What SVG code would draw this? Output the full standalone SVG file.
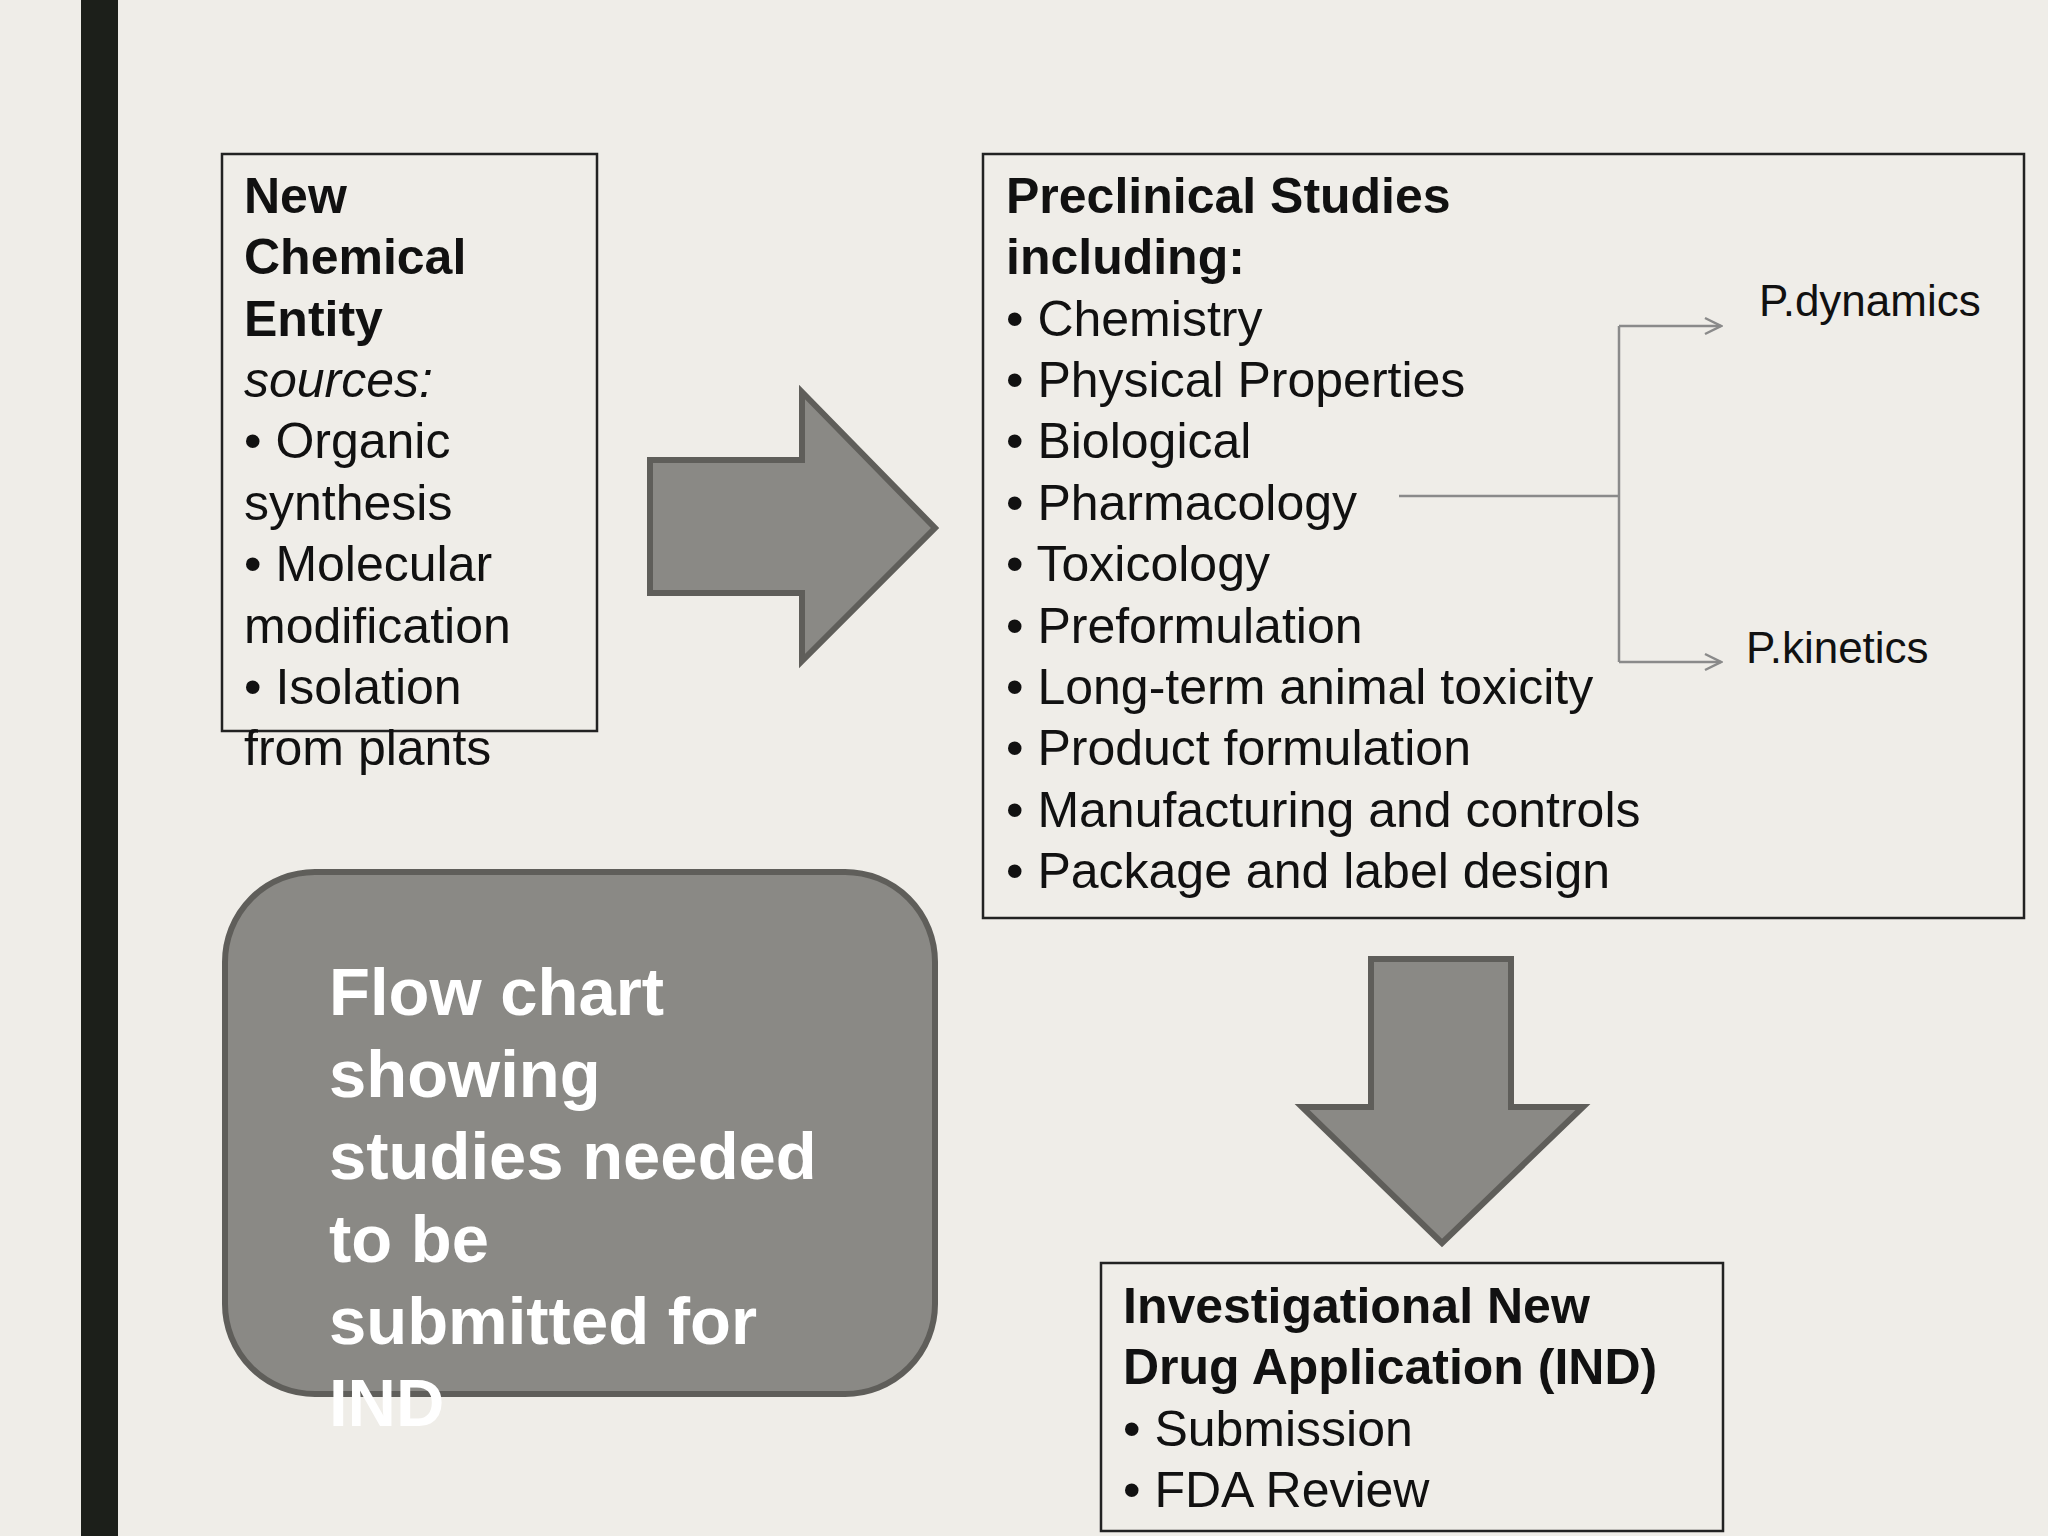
<svg xmlns="http://www.w3.org/2000/svg" width="2048" height="1536" viewBox="0 0 2048 1536">
<defs>
<style>
text{font-family:"Liberation Sans",Arial,sans-serif;fill:#111}
.t{font-size:50px}
.b{font-weight:bold}
.w{fill:#fff;font-size:67px;font-weight:bold}
.box{fill:none;stroke:#222;stroke-width:2.5}
.arr{fill:#8a8985;stroke:#5f5e5a;stroke-width:6}
.con{fill:none;stroke:#8a8a8a;stroke-width:2.5}
.p{font-size:44px}
</style>
<marker id="m" viewBox="0 0 20 20" refX="18" refY="10" markerWidth="20" markerHeight="20" markerUnits="userSpaceOnUse" orient="auto"><path d="M2 2 L18 10 L2 18" fill="none" stroke="#8a8a8a" stroke-width="2.5"/></marker>
</defs>
<rect width="2048" height="1536" fill="#efede8"/>
<rect x="81" y="0" width="37" height="1536" fill="#1c1f1a"/>
<g id="nce">
<rect class="box" x="222" y="154" width="375" height="577"/>
<text class="t" x="244"><tspan class="b" x="244" y="213">New</tspan><tspan class="b" x="244" y="274">Chemical</tspan><tspan class="b" x="244" y="336">Entity</tspan><tspan x="244" y="397" font-style="italic">sources:</tspan><tspan x="244" y="458">• Organic</tspan><tspan x="244" y="520">synthesis</tspan><tspan x="244" y="581">• Molecular</tspan><tspan x="244" y="643">modification</tspan><tspan x="244" y="704">• Isolation</tspan><tspan x="244" y="765">from plants</tspan></text>
</g>
<g id="arrow-right"><polygon class="arr" points="650,460 802,460 802,392 935,528 802,661 802,593 650,593"/></g>
<g id="preclinical">
<rect class="box" x="983" y="154" width="1041" height="764"/>
<text class="t" x="1006"><tspan class="b" x="1006" y="213">Preclinical Studies</tspan><tspan class="b" x="1006" y="274">including:</tspan><tspan x="1006" y="336">• Chemistry</tspan><tspan x="1006" y="397">• Physical Properties</tspan><tspan x="1006" y="458">• Biological</tspan><tspan x="1006" y="520">• Pharmacology</tspan><tspan x="1006" y="581">• Toxicology</tspan><tspan x="1006" y="643">• Preformulation</tspan><tspan x="1006" y="704">• Long-term animal toxicity</tspan><tspan x="1006" y="765">• Product formulation</tspan><tspan x="1006" y="827">• Manufacturing and controls</tspan><tspan x="1006" y="888">• Package and label design</tspan></text>
</g>
<g id="connectors">
<path class="con" d="M1399 496 H1619"/>
<path class="con" d="M1619 326 V662"/>
<path class="con" d="M1619 326 H1721" marker-end="url(#m)"/>
<path class="con" d="M1619 662 H1721" marker-end="url(#m)"/>
</g>
<g id="pdyn"><text class="p" x="1759" y="316">P.dynamics</text></g>
<g id="pkin"><text class="p" x="1746" y="663">P.kinetics</text></g>
<g id="arrow-down"><polygon class="arr" points="1371,959 1511,959 1511,1107 1583,1107 1442,1243 1302,1107 1371,1107"/></g>
<g id="ind">
<rect class="box" x="1101" y="1263" width="622" height="268"/>
<text class="t" x="1123"><tspan class="b" x="1123" y="1323">Investigational New</tspan><tspan class="b" x="1123" y="1384">Drug Application (IND)</tspan><tspan x="1123" y="1446">• Submission</tspan><tspan x="1123" y="1507">• FDA Review</tspan></text>
</g>
<g id="caption">
<rect x="225" y="872" width="710" height="522" rx="90" fill="#8a8985" stroke="#5f5e5a" stroke-width="6"/>
<text class="w"><tspan x="329" y="1015">Flow chart</tspan><tspan x="329" y="1097">showing</tspan><tspan x="329" y="1179">studies needed</tspan><tspan x="329" y="1262">to be</tspan><tspan x="329" y="1344">submitted for</tspan><tspan x="329" y="1426">IND</tspan></text>
</g>
</svg>
